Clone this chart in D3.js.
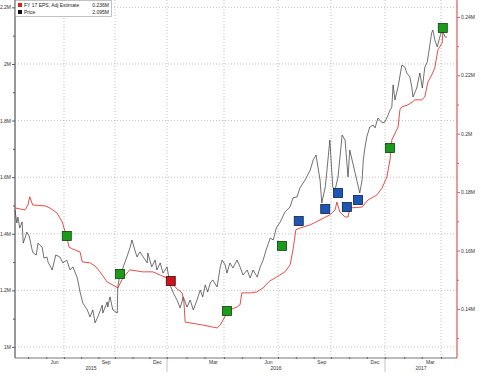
<!DOCTYPE html>
<html>
<head>
<meta charset="utf-8">
<script src="https://cdn.jsdelivr.net/npm/d3@7/dist/d3.min.js"></script>
<style>
  body { margin: 0; background: #fff; }
  svg { display: block; }
  text { font-family: "Liberation Sans", Arial, sans-serif; }
</style>
</head>
<body>
<div id="chart"></div>
<script>
// Price (left axis, millions)
var priceDates = ["2015-04-09","2015-04-12","2015-04-14","2015-04-17","2015-04-21","2015-04-23","2015-04-26","2015-04-29",
  "2015-05-03","2015-05-08","2015-05-10","2015-05-15","2015-05-18","2015-05-21","2015-05-25","2015-05-28","2015-06-02",
  "2015-06-04","2015-06-11","2015-06-17","2015-06-24","2015-06-29","2015-07-06","2015-07-12","2015-07-17","2015-07-25",
  "2015-07-30","2015-08-04","2015-08-12","2015-08-17","2015-08-22","2015-08-26","2015-08-31","2015-09-08","2015-09-09",
  "2015-09-17","2015-09-18","2015-09-22","2015-09-27","2015-10-05","2015-10-06","2015-10-10","2015-10-15","2015-10-22",
  "2015-10-28","2015-10-31","2015-11-05","2015-11-09","2015-11-14","2015-11-20","2015-11-27","2015-11-28","2015-12-05",
  "2015-12-11","2015-12-14","2015-12-20","2015-12-25","2016-01-01","2016-01-06","2016-01-11","2016-01-17","2016-01-22",
  "2016-01-27","2016-02-02","2016-02-07","2016-02-12","2016-02-18","2016-02-23","2016-02-27","2016-03-02","2016-03-06",
  "2016-03-10","2016-03-14","2016-03-21","2016-03-26","2016-03-29","2016-04-03","2016-04-06","2016-04-11","2016-04-16",
  "2016-04-23","2016-04-28","2016-05-03","2016-05-10","2016-05-15","2016-05-20","2016-05-27","2016-06-01","2016-06-06",
  "2016-06-11","2016-06-18","2016-06-23","2016-06-28","2016-07-05","2016-07-13","2016-07-22","2016-07-27","2016-08-03",
  "2016-08-08","2016-08-17","2016-08-26","2016-08-31","2016-09-05","2016-09-12","2016-09-15","2016-09-21","2016-09-24",
  "2016-09-29","2016-10-04","2016-10-08","2016-10-13","2016-10-20","2016-10-25","2016-10-30","2016-11-02","2016-11-11",
  "2016-11-19","2016-11-23","2016-11-25","2016-11-28","2016-12-01","2016-12-06","2016-12-12","2016-12-15","2016-12-20",
  "2016-12-27","2017-01-01","2017-01-06","2017-01-09","2017-01-12","2017-01-14","2017-01-17","2017-01-22","2017-01-28",
  "2017-02-02","2017-02-05","2017-02-10","2017-02-13","2017-02-15","2017-02-21","2017-02-26","2017-03-02","2017-03-06",
  "2017-03-10","2017-03-17","2017-03-19","2017-03-22","2017-03-26","2017-03-30","2017-04-03","2017-04-08","2017-04-11"];
var priceValues = [1.484,1.438,1.459,1.420,1.442,1.367,1.385,1.406,
  1.392,1.343,1.332,1.325,1.367,1.360,1.353,1.314,1.318,
  1.300,1.272,1.325,1.318,1.297,1.307,1.272,1.283,1.244,
  1.194,1.155,1.131,1.106,1.131,1.085,1.106,1.148,1.120,
  1.159,1.141,1.177,1.131,1.120,1.212,1.261,1.279,1.318,
  1.353,1.378,1.343,1.318,1.336,1.318,1.297,1.332,1.283,
  1.307,1.272,1.297,1.261,1.283,1.219,1.191,1.166,1.138,
  1.177,1.141,1.166,1.131,1.166,1.201,1.177,1.219,1.194,
  1.226,1.237,1.212,1.283,1.307,1.290,1.261,1.297,1.279,
  1.307,1.283,1.254,1.272,1.244,1.272,1.247,1.283,1.307,
  1.343,1.385,1.378,1.420,1.442,1.477,1.495,1.527,1.530,
  1.562,1.590,1.625,1.661,1.678,1.590,1.509,1.565,1.625,
  1.731,1.565,1.555,1.601,1.749,1.731,1.601,1.696,1.615,
  1.544,1.590,1.661,1.707,1.742,1.777,1.784,1.774,1.809,
  1.792,1.795,1.820,1.837,1.848,1.926,1.873,1.919,1.996,
  1.989,1.968,1.954,1.919,1.883,1.915,1.968,1.915,1.989,
  2.007,2.110,2.120,2.085,2.060,2.095,2.120,2.095,2.095];

// EPS estimate (right axis, millions)
var epsDates = ["2015-04-09","2015-04-26","2015-05-01","2015-05-04","2015-05-09","2015-05-30","2015-06-07","2015-06-19",
  "2015-06-28","2015-07-03","2015-07-06","2015-07-10","2015-07-17","2015-07-30","2015-08-03","2015-08-17","2015-08-26",
  "2015-09-04","2015-09-09","2015-09-17","2015-09-27","2015-10-06","2015-10-15","2015-10-27","2015-11-19","2015-12-07",
  "2015-12-20","2016-01-01","2016-01-07","2016-01-14","2016-01-25","2016-01-28","2016-01-30","2016-02-27","2016-03-21",
  "2016-03-26","2016-04-06","2016-04-11","2016-04-23","2016-04-28","2016-05-01","2016-05-15","2016-05-26","2016-06-06",
  "2016-06-17","2016-06-26","2016-07-13","2016-07-22","2016-07-27","2016-08-01","2016-08-08","2016-08-26","2016-09-12",
  "2016-09-29","2016-10-08","2016-10-11","2016-10-16","2016-10-25","2016-10-30","2016-11-02","2016-11-23","2016-12-03",
  "2016-12-18","2016-12-27","2017-01-04","2017-01-09","2017-01-12","2017-01-22","2017-01-25","2017-01-28","2017-02-07",
  "2017-02-14","2017-02-18","2017-03-01","2017-03-06","2017-03-11","2017-03-17","2017-03-22","2017-03-27","2017-04-03",
  "2017-04-04","2017-04-11"];
var epsValues = [0.1746,0.1739,0.1756,0.1784,0.1756,0.1753,0.1746,0.1729,
  0.1698,0.1664,0.1647,0.1612,0.1605,0.1595,0.1561,0.1558,0.1547,
  0.1527,0.1513,0.1492,0.1482,0.1472,0.1506,0.1534,0.1527,0.1527,
  0.1516,0.1506,0.1496,0.1475,0.1455,0.1424,0.1355,0.1345,0.1335,
  0.1345,0.1386,0.1397,0.1407,0.1414,0.1455,0.1455,0.1458,0.1472,
  0.1496,0.1506,0.1527,0.1551,0.1602,0.1671,0.1677,0.1688,0.1705,
  0.1722,0.1739,0.1766,0.1732,0.1715,0.1715,0.1746,0.1749,0.1773,
  0.1790,0.1814,0.1852,0.1910,0.1979,0.2023,0.2082,0.2092,0.2099,
  0.2109,0.2116,0.2116,0.2126,0.2177,0.2201,0.2225,0.2287,0.2311,
  0.2345,0.2360];

// estimate revision markers: up / down / unchanged
var revDates = ["2015-07-06","2015-10-10","2016-01-07","2016-04-06","2016-07-08","2016-08-06",
  "2016-09-21","2016-10-13","2016-10-28","2016-11-16","2017-01-09","2017-04-04"];
var revValues = [0.1650,0.1520,0.1496,0.1393,0.1616,0.1701,0.1742,0.1797,0.1749,0.1773,0.1951,0.2362];
var revTypes = ["up","up","down","up","up","flat","flat","flat","flat","flat","up","up"];

var leftTicks = [1, 1.2, 1.4, 1.6, 1.8, 2, 2.2];
var rightTicks = [0.14, 0.16, 0.18, 0.2, 0.22, 0.24];
var monthLabelDates = ["2015-06-15","2015-09-15","2015-12-15","2016-03-15","2016-06-15","2016-09-15","2016-12-15","2017-03-15"];
var monthLabels = ["Jun","Sep","Dec","Mar","Jun","Sep","Dec","Mar"];
var yearLabels = ["2015","2016","2017"];
var legendNames = ["FY 17 EPS, Adj Estimate", "Price"];
var legendValues = ["0.236M", "2.095M"];

var parse = d3.timeParse("%Y-%m-%d");
var width = 481, height = 376;
var plotLeft = 15, plotRight = 457, plotTop = 0, plotBottom = 358;

var svg = d3.select("#chart").append("svg")
    .attr("width", width)
    .attr("height", height);

// trading-day style axis: quarters are not all the same width
var x = d3.scaleTime()
    .domain([parse("2015-04-09"), parse("2015-07-01"), parse("2015-10-01"), parse("2016-01-01"), parse("2016-04-01"),
             parse("2016-07-01"), parse("2016-10-01"), parse("2017-01-01"), parse("2017-04-01"), parse("2017-04-28")])
    .range([plotLeft, 64, 115, 167, 224, 278, 331, 385, 441, plotRight]);

var yL = d3.scaleLinear().domain([0.961, 2.226]).range([plotBottom, plotTop]);
var yR = d3.scaleLinear().domain([0.1232, 0.2458]).range([plotBottom, plotTop]);

var fmt = function (d) { return (+d.toFixed(2)) + "M"; };

// horizontal grid
svg.append("g")
    .selectAll("line")
    .data(leftTicks)
    .enter()
    .append("line")
    .attr("x1", plotLeft).attr("x2", plotRight)
    .attr("y1", function (d) { return yL(d); })
    .attr("y2", function (d) { return yL(d); })
    .attr("stroke", "#b0b0b0")
    .attr("stroke-width", 0.8)
    .attr("stroke-dasharray", "1,2");

// vertical grid at quarter starts
var quarters = d3.timeMonth.every(3).range(parse("2015-07-01"), parse("2017-04-02"));
svg.append("g")
    .selectAll("line")
    .data(quarters)
    .enter()
    .append("line")
    .attr("x1", function (d) { return x(d); })
    .attr("x2", function (d) { return x(d); })
    .attr("y1", plotTop).attr("y2", plotBottom)
    .attr("stroke", "#b0b0b0")
    .attr("stroke-width", 0.8)
    .attr("stroke-dasharray", "1,2");

// left axis
var gL = svg.append("g")
    .attr("transform", "translate(" + plotLeft + ",0)")
    .call(d3.axisLeft(yL).tickValues(leftTicks).tickFormat(fmt).tickSize(3).tickPadding(1));
gL.append("g").call(d3.axisLeft(yL).tickValues(d3.range(1.1, 2.2, 0.2)).tickFormat("").tickSize(2));
gL.selectAll(".domain").attr("stroke", "#777").attr("d", "M0," + plotTop + "V" + plotBottom);
gL.selectAll(".tick line").attr("stroke", "#555");
gL.selectAll("text").style("font-size", "5px").attr("fill", "#333");

// right axis
var gR = svg.append("g")
    .attr("transform", "translate(" + plotRight + ",0)")
    .call(d3.axisRight(yR).tickValues(rightTicks).tickFormat(fmt).tickSize(3).tickPadding(1));
gR.append("g").call(d3.axisRight(yR).tickValues(d3.range(0.13, 0.24, 0.02)).tickFormat("").tickSize(2));
gR.selectAll(".domain").attr("stroke", "#e07a7a").attr("d", "M0," + plotTop + "V" + plotBottom);
gR.selectAll(".tick line").attr("stroke", "#d06060");
gR.selectAll("text").style("font-size", "5px").attr("fill", "#333");

// bottom axis
var gB = svg.append("g")
    .attr("transform", "translate(0," + plotBottom + ")")
    .call(d3.axisBottom(x).ticks(d3.timeMonth.every(1)).tickFormat("").tickSize(2));
gB.selectAll(".domain").attr("stroke", "#777").attr("d", "M" + plotLeft + ",0H" + plotRight);
gB.selectAll(".tick line").attr("stroke", "#666").attr("transform", "translate(0,-1)");

svg.append("g")
    .selectAll("text")
    .data(monthLabels)
    .enter()
    .append("text")
    .attr("x", function (d, i) { return x(parse(monthLabelDates[i])); })
    .attr("y", plotBottom + 6)
    .attr("text-anchor", "middle")
    .style("font-size", "5px")
    .attr("fill", "#333")
    .text(function (d) { return d; });

var yearStarts = [x.domain()[0], parse("2016-01-01"), parse("2017-01-01"), x.domain()[x.domain().length - 1]];
svg.append("g")
    .selectAll("text")
    .data(yearLabels)
    .enter()
    .append("text")
    .attr("x", function (d, i) { return (x(yearStarts[i]) + x(yearStarts[i + 1])) / 2; })
    .attr("y", plotBottom + 12)
    .attr("text-anchor", "middle")
    .style("font-size", "5px")
    .attr("fill", "#333")
    .text(function (d) { return d; });

svg.append("g")
    .selectAll("line")
    .data(yearStarts.slice(1, 3))
    .enter()
    .append("line")
    .attr("x1", function (d) { return x(d); })
    .attr("x2", function (d) { return x(d); })
    .attr("y1", plotBottom).attr("y2", plotBottom + 14)
    .attr("stroke", "#999")
    .attr("stroke-width", 0.6);

// price line
var priceData = priceDates.map(function (d, i) { return { date: parse(d), value: priceValues[i] }; });
svg.append("path")
    .datum(priceData)
    .attr("fill", "none")
    .attr("stroke", "#333")
    .attr("stroke-width", 0.7)
    .attr("d", d3.line()
        .x(function (d) { return x(d.date); })
        .y(function (d) { return yL(d.value); }));

// EPS estimate line
var epsData = epsDates.map(function (d, i) { return { date: parse(d), value: epsValues[i] }; });
svg.append("path")
    .datum(epsData)
    .attr("fill", "none")
    .attr("stroke", "#e0201c")
    .attr("stroke-width", 0.8)
    .attr("d", d3.line()
        .x(function (d) { return x(d.date); })
        .y(function (d) { return yR(d.value); }));

// revision markers
var markerFill = { up: "#1c9a1c", down: "#c8141a", flat: "#1d56b5" };
var markerStroke = { up: "#0a3f0a", down: "#4a0505", flat: "#0a1f4a" };
svg.append("g")
    .selectAll("rect")
    .data(revDates)
    .enter()
    .append("rect")
    .attr("x", function (d) { return x(parse(d)) - 4.5; })
    .attr("y", function (d, i) { return yR(revValues[i]) - 4.5; })
    .attr("width", 9)
    .attr("height", 9)
    .attr("fill", function (d, i) { return markerFill[revTypes[i]]; })
    .attr("stroke", function (d, i) { return markerStroke[revTypes[i]]; })
    .attr("stroke-width", 0.8);

// legend
var lg = svg.append("g");
lg.append("rect")
    .attr("x", plotLeft + 0.5).attr("y", 0.5)
    .attr("width", 96).attr("height", 16)
    .attr("fill", "#fff")
    .attr("stroke", "#999")
    .attr("stroke-width", 0.6);
var legendColors = ["#e0201c", "#111"];
legendNames.forEach(function (name, i) {
    lg.append("rect")
        .attr("x", plotLeft + 3).attr("y", 3 + i * 7)
        .attr("width", 4).attr("height", 4)
        .attr("fill", legendColors[i]);
    lg.append("text")
        .attr("x", plotLeft + 9).attr("y", 7 + i * 7)
        .style("font-size", "5px")
        .attr("fill", "#222")
        .text(name);
    lg.append("text")
        .attr("x", plotLeft + 94).attr("y", 7 + i * 7)
        .attr("text-anchor", "end")
        .style("font-size", "5px")
        .attr("fill", "#222")
        .text(legendValues[i]);
});
</script>
</body>
</html>
